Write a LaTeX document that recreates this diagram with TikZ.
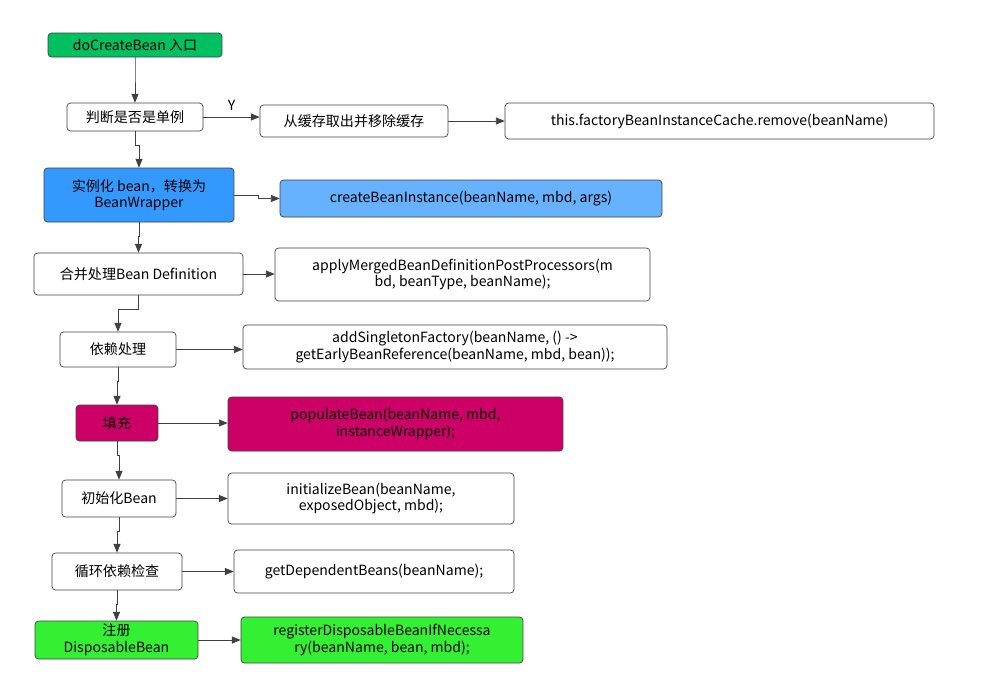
\documentclass[tikz,border=0pt]{standalone}
\usepackage{fontspec}
\setmainfont{Noto Sans CJK SC}
\usetikzlibrary{arrows.meta}

\definecolor{startgreen}{HTML}{00C060}
\definecolor{endgreen}{HTML}{33F033}
\definecolor{darkblue}{HTML}{3399FF}
\definecolor{lightblue}{HTML}{66B2FF}
\definecolor{fillred}{HTML}{CC0066}
\definecolor{linegray}{HTML}{404040}

\tikzset{
	box/.style={draw=linegray, rounded corners=2pt, align=center, inner sep=1pt,
		font=\fontsize{8}{9.5}\selectfont},
	arr/.style={draw=linegray, -{Triangle[length=5pt,width=4pt]}}
}

\begin{document}
\begin{tikzpicture}[x=0.02cm, y=-0.02cm]

\useasboundingbox (0,0) rectangle (986,677);

% Left column.

	\node[box, fill=startgreen, minimum width=3.48cm, minimum height=0.48cm] (entry) at (135,45) {doCreateBean 入口};
	\node[box, minimum width=2.72cm, minimum height=0.56cm] (single) at (135,117) {判断是否是单例};
	\node[box, fill=darkblue, minimum width=3.8cm, minimum height=1.08cm] (inst) at (139,195) {实例化 bean，转换为\\BeanWrapper};
	\node[box, minimum width=4.18cm, minimum height=0.84cm] (merge) at (138.5,274) {合并处理Bean Definition};
	\node[box, minimum width=2.32cm, minimum height=0.7cm] (depend) at (118,349.5) {依赖处理};
	\node[box, fill=fillred, minimum width=1.64cm, minimum height=0.72cm] (fill) at (117,423) {填充};
	\node[box, minimum width=2.28cm, minimum height=0.74cm] (init) at (119,498.5) {初始化Bean};
	\node[box, minimum width=2.6cm, minimum height=0.74cm] (check) at (117,571.5) {循环依赖检查};
	\node[box, fill=endgreen, minimum width=3.26cm, minimum height=0.76cm] (register) at (116.5,640) {注册\\DisposableBean};

% Right column.

	\node[box, minimum width=3.76cm, minimum height=0.64cm] (cache) at (354,121) {从缓存取出并移除缓存};
	\node[box, minimum width=8.58cm, minimum height=0.72cm] (remove) at (719.5,121) {this.factoryBeanInstanceCache.remove(beanName)};
	\node[box, fill=lightblue, minimum width=7.64cm, minimum height=0.74cm] (create) at (471,198.5) {createBeanInstance(beanName, mbd, args)};
	\node[box, minimum width=7.5cm, minimum height=1.06cm] (apply) at (462.5,274.5) {applyMergedBeanDefinitionPostProcessors(m\\bd, beanType, beanName);};
	\node[box, minimum width=8.48cm, minimum height=0.88cm] (factory) at (455,347) {addSingletonFactory(beanName, () ->\\getEarlyBeanReference(beanName, mbd, bean));};
	\node[box, fill=fillred, minimum width=6.7cm, minimum height=1.08cm] (populate) at (395.5,424) {populateBean(beanName, mbd,\\instanceWrapper);};
	\node[box, minimum width=5.72cm, minimum height=1.02cm] (initialize) at (371,498.5) {initializeBean(beanName,\\exposedObject, mbd);};
	\node[box, minimum width=5.6cm, minimum height=0.86cm] (dependent) at (374,571.5) {getDependentBeans(beanName);};
	\node[box, fill=endgreen, minimum width=5.64cm, minimum height=0.92cm] (disposable) at (382,640) {registerDisposableBeanIfNecessa\\ry(beanName, bean, mbd);};

% Draw vertical connectors.

	\foreach \a/\b in {entry/single, single/inst, inst/merge, merge/depend, depend/fill, fill/init, init/check, check/register}
		\draw[arr] (\a.south) -- ++(0,14) -| (\b.north);

% Draw horizontal connectors.

	\draw[arr] (single.east) -- (single.east -| cache.west) node[pos=0.5, above, font=\fontsize{8}{9}\selectfont] {Y};
	\draw[arr] (cache.east) -- (cache.east -| remove.west);
	\draw[arr] (inst.east) -- ++(24,0) |- (create.west);
	\foreach \a/\b in {merge/apply, depend/factory, fill/populate, init/initialize, check/dependent, register/disposable}
		\draw[arr] (\a.east) -- (\a.east -| \b.west);

\end{tikzpicture}
\end{document}
